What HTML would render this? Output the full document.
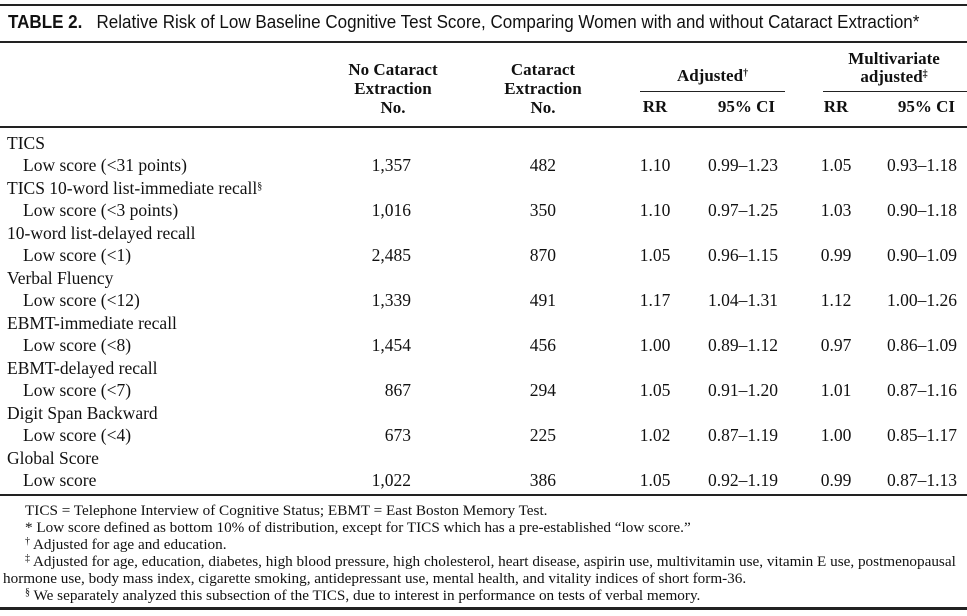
<!DOCTYPE html>
<html><head><meta charset="utf-8"><style>
body{margin:0;width:967px;height:616px;background:#fff;position:relative;overflow:hidden;font-family:"Liberation Serif",serif;color:#111}
.t{position:absolute;white-space:nowrap;font-size:17.5px;line-height:18px}
.r{text-align:right}
.c{text-align:center}
.h{font-weight:bold;font-size:17px}
.f{position:absolute;white-space:nowrap;font-size:15.2px;line-height:16px}
.rule{position:absolute;left:0;width:967px;background:#222}
sup{line-height:0;vertical-align:baseline;position:relative;top:-0.5em;font-size:10px}
.col div{height:45px}
</style></head><body>
<div class="rule" style="top:4px;height:2px"></div>
<div class="t" style="left:8px;top:12px;font-family:'Liberation Sans',sans-serif;font-size:18px;line-height:20px;transform:scaleX(0.945);transform-origin:left"><b>TABLE 2.</b>&nbsp;&nbsp; Relative Risk of Low Baseline Cognitive Test Score, Comparing Women with and without Cataract Extraction*</div>
<div class="rule" style="top:41px;height:2px"></div>

<div class="t h c" style="left:313px;width:160px;top:60px;line-height:19px">No Cataract<br>Extraction<br>No.</div>
<div class="t h c" style="left:463px;width:160px;top:60px;line-height:19px">Cataract<br>Extraction<br>No.</div>
<div class="t h c" style="left:640px;width:145px;top:67px">Adjusted<sup>†</sup></div>
<div class="rule" style="left:640px;width:145px;top:91px;height:1px"></div>
<div class="t h c" style="left:823px;width:142px;top:50px;line-height:18px">Multivariate<br>adjusted<sup>‡</sup></div>
<div class="rule" style="left:823px;width:144px;top:91px;height:1px"></div>
<div class="t h c" style="left:630px;width:50px;top:98px">RR</div>
<div class="t h r" style="left:680px;width:95px;top:98px">95% CI</div>
<div class="t h c" style="left:811px;width:50px;top:98px">RR</div>
<div class="t h r" style="left:860px;width:95px;top:98px">95% CI</div>
<div class="rule" style="top:126px;height:2px"></div>

<div class="t" style="left:7px;top:134px">TICS</div>
<div class="t" style="left:7px;top:179px">TICS 10-word list-immediate recall<sup>§</sup></div>
<div class="t" style="left:7px;top:224px">10-word list-delayed recall</div>
<div class="t" style="left:7px;top:269px">Verbal Fluency</div>
<div class="t" style="left:7px;top:314px">EBMT-immediate recall</div>
<div class="t" style="left:7px;top:359px">EBMT-delayed recall</div>
<div class="t" style="left:7px;top:404px">Digit Span Backward</div>
<div class="t" style="left:7px;top:449px">Global Score</div>

<div class="t" style="left:23px;top:156px">Low score (&lt;31 points)</div>
<div class="t" style="left:23px;top:201px">Low score (&lt;3 points)</div>
<div class="t" style="left:23px;top:246px">Low score (&lt;1)</div>
<div class="t" style="left:23px;top:291px">Low score (&lt;12)</div>
<div class="t" style="left:23px;top:336px">Low score (&lt;8)</div>
<div class="t" style="left:23px;top:381px">Low score (&lt;7)</div>
<div class="t" style="left:23px;top:426px">Low score (&lt;4)</div>
<div class="t" style="left:23px;top:471px">Low score</div>

<div class="t r col" style="left:311px;width:100px;top:156px"><div>1,357</div><div>1,016</div><div>2,485</div><div>1,339</div><div>1,454</div><div>867</div><div>673</div><div>1,022</div></div>
<div class="t r col" style="left:456px;width:100px;top:156px"><div>482</div><div>350</div><div>870</div><div>491</div><div>456</div><div>294</div><div>225</div><div>386</div></div>
<div class="t c col" style="left:630px;width:50px;top:156px"><div>1.10</div><div>1.10</div><div>1.05</div><div>1.17</div><div>1.00</div><div>1.05</div><div>1.02</div><div>1.05</div></div>
<div class="t r col" style="left:678px;width:100px;top:156px"><div>0.99–1.23</div><div>0.97–1.25</div><div>0.96–1.15</div><div>1.04–1.31</div><div>0.89–1.12</div><div>0.91–1.20</div><div>0.87–1.19</div><div>0.92–1.19</div></div>
<div class="t c col" style="left:811px;width:50px;top:156px"><div>1.05</div><div>1.03</div><div>0.99</div><div>1.12</div><div>0.97</div><div>1.01</div><div>1.00</div><div>0.99</div></div>
<div class="t r col" style="left:857px;width:100px;top:156px"><div>0.93–1.18</div><div>0.90–1.18</div><div>0.90–1.09</div><div>1.00–1.26</div><div>0.86–1.09</div><div>0.87–1.16</div><div>0.85–1.17</div><div>0.87–1.13</div></div>

<div class="rule" style="top:494px;height:2px"></div>
<div class="f" style="left:25px;top:503px">TICS = Telephone Interview of Cognitive Status; EBMT = East Boston Memory Test.</div>
<div class="f" style="left:25px;top:520px">* Low score defined as bottom 10% of distribution, except for TICS which has a pre-established “low score.”</div>
<div class="f" style="left:25px;top:537px"><sup>†</sup> Adjusted for age and education.</div>
<div class="f" style="left:25px;top:554px"><sup>‡</sup> Adjusted for age, education, diabetes, high blood pressure, high cholesterol, heart disease, aspirin use, multivitamin use, vitamin E use, postmenopausal</div>
<div class="f" style="left:3px;top:571px">hormone use, body mass index, cigarette smoking, antidepressant use, mental health, and vitality indices of short form-36.</div>
<div class="f" style="left:25px;top:588px"><sup>§</sup> We separately analyzed this subsection of the TICS, due to interest in performance on tests of verbal memory.</div>
<div class="rule" style="top:607px;height:3px"></div>
</body></html>
